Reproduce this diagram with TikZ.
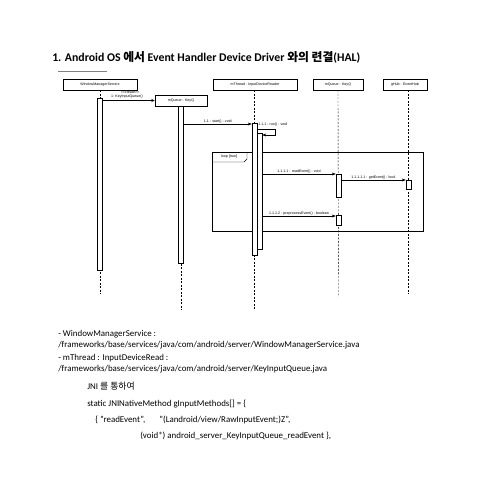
\documentclass[tikz,border=0pt]{standalone}
\usepackage{fontspec}
\setmainfont{Carlito}
\newfontfamily\krfont{Noto Sans CJK KR}
\newfontfamily\umlfont{Liberation Sans}
\usetikzlibrary{arrows.meta,positioning}

\begin{document}
\begin{tikzpicture}[x=1pt,y=-1pt,line width=0.5pt,>={Stealth[length=4pt,width=3pt]},
  obj/.style={draw,line width=0.7pt,minimum height=11pt,inner sep=0pt,font=\umlfont\fontsize{3.6}{4}\selectfont},
  bar/.style={draw,fill=white,line width=0.4pt,minimum width=5pt,inner sep=0pt},
  life/.style={dashed,dash pattern=on 2pt off 1.5pt,line width=0.4pt},
  msg/.style={->,line width=0.4pt},
  lab/.style={font=\umlfont\fontsize{3.6}{4}\selectfont,inner sep=1pt},
  txt/.style={anchor=base west,inner sep=0pt,font=\fontsize{8.9}{10}\selectfont}]
\useasboundingbox (0,0) rectangle (495,495);
% title
\node[anchor=base west,inner sep=0pt,font=\bfseries\fontsize{11.8}{13}\selectfont] (title) at (52,62)
  {1. Android OS {\krfont 에서} Event Handler Device Driver {\krfont 와의 련결}(HAL)};
\draw[line width=0.3pt,gray] (58,71) -- (107,71);
% objects
\node[obj,minimum width=74pt] (wms) at (100,84.5) {WindowManagerService};
\node[obj,minimum width=52pt] (kq) at (181,100.5) {mQueue : KeyQ};
\node[obj,minimum width=84pt] (thr) at (255,84.5) {mThread : InputDeviceReader};
\node[obj,minimum width=50pt] (que) at (338,84.5) {mQueue : KeyQ};
\node[obj,minimum width=44pt] (hub) at (405,84.5) {gHub : EventHub};
% life lines
\draw[life] (wms.south) -- (100,294);
\draw[life] (kq.south) -- (181,310);
\draw[life] (thr.south -| 254.5,0) -- (254.5,310);
\draw[life] (que.south) -- (338.5,297);
\draw[life] (hub.south -| 408.5,0) -- (408.5,294);
% loop frame
\draw[line width=0.4pt] (212,152) rectangle (423,231);
\draw[line width=0.4pt] (212,162) -- (244,162) -- (247,159) -- (247,152);
\node[lab] (loop) at (229,157) {loop [true]};
% activations
\node[bar,anchor=north,minimum height=172pt] (wmsA) at (100,98) {};
\node[bar,anchor=north,minimum height=157pt] (kqA) at (181,106) {};
\node[bar,anchor=north,minimum height=132pt] (thrA) at (254.5,123) {};
\node[bar,anchor=north,minimum height=116pt] (thrB) at (259.5,133) {};
\node[bar,anchor=north,minimum height=23pt] (queA) at (338.5,174) {};
\node[bar,anchor=north,minimum height=10pt] (queB) at (338.5,215) {};
\node[bar,anchor=north,minimum height=9pt] (hubA) at (408.5,180) {};
% messages
\draw[line width=0.4pt,-{Straight Barb[length=3pt,width=3pt]}] (wmsA.east |- kq.west) -- (kq.west);
\node[lab] (cr) at (130,92) {\textless\textless create\textgreater\textgreater};
\node[lab] (m1) at (127,97) {1: KeyInputQueue()};
\draw[msg] (kqA.east |- 0,124) -- node[lab,above] {1.1 : start() : void} (thrA.west |- 0,124);
\draw[msg] (thrA.east |- 0,129) -- ++(18,0) |- (thrB.east |- 0,135);
\node[lab,anchor=west] (m11) at (257,125) {1.1.1 : run() : void};
\draw[msg] (thrB.east |- queA.north) -- node[lab,above] {1.1.1.1 : readEvent() : void} (queA.north west);
\draw[msg] (queA.east |- hubA.north) -- node[lab,above] {1.1.1.1.1 : getEvent() : bool} (hubA.north west);
\draw[msg] (thrB.east |- 0,216) -- node[lab,above] {1.1.1.2 : preprocessEvent() : boolean} (queB.west |- 0,216);
% notes
\node[txt] (n1) at (58,336) {- WindowManagerService :};
\node[txt] (n2) at (58,347) {/frameworks/base/services/java/com/android/server/WindowManagerService.java};
\node[txt] (n3) at (58,360) {- mThread : InputDeviceRead :};
\node[txt] (n4) at (58,371) {/frameworks/base/services/java/com/android/server/KeyInputQueue.java};
\node[txt] (n5) at (87,389) {JNI {\krfont 를 통하여}};
\node[txt] (n6) at (87,406) {static JNINativeMethod gInputMethods[] = \{};
\node[txt] (n7) at (95,422) {\{ "readEvent",\hspace{14pt}"(Landroid/view/RawInputEvent;)Z",};
\node[txt] (n8) at (140,438) {(void*) android\_server\_KeyInputQueue\_readEvent \},};
\end{tikzpicture}
\end{document}
